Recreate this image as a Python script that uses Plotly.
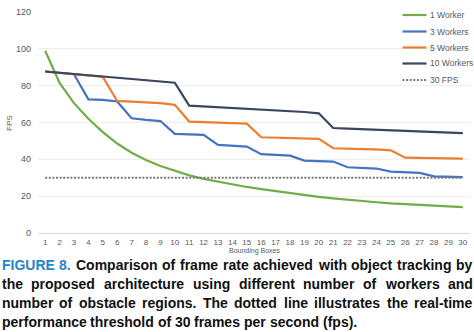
import plotly.graph_objects as go

# ---------------- data ----------------
boxes = [1, 2, 3, 4, 5, 6, 7, 8, 9, 10, 11, 12, 13, 14, 15,
         16, 17, 18, 19, 20, 21, 22, 23, 24, 25, 26, 27, 28, 29, 30]
tick_labels = [str(b) for b in boxes]

fps_1_worker = [99.0, 81.5, 70.5, 62.0, 54.8, 48.6, 43.6, 39.6, 36.4, 33.7,
                31.3, 29.4, 27.8, 26.3, 25.0, 23.8, 22.7, 21.7, 20.8, 19.6,
                18.8, 18.0, 17.3, 16.7, 16.1, 15.6, 15.1, 14.7, 14.3, 14.0]
fps_3_workers = [87.7, 87.0, 86.2, 72.6, 72.3, 71.4, 62.3, 61.4, 60.8, 53.8,
                 53.6, 53.3, 47.8, 47.3, 46.9, 42.8, 42.4, 42.0, 39.3, 39.1,
                 38.8, 35.7, 35.5, 35.0, 33.3, 32.8, 32.6, 30.8, 30.6, 30.3]
fps_5_workers = [87.7, 87.0, 86.2, 85.6, 84.8, 71.7, 71.4, 71.0, 70.5, 69.6,
                 60.5, 60.2, 60.0, 59.8, 59.4, 52.0, 51.8, 51.6, 51.4, 51.1,
                 46.0, 45.6, 45.5, 45.4, 44.9, 40.9, 40.8, 40.7, 40.6, 40.4]
fps_10_workers = [87.7, 87.0, 86.2, 85.6, 84.8, 84.0, 83.4, 82.6, 82.1, 81.6,
                  69.2, 68.8, 68.4, 68.0, 67.6, 67.2, 66.8, 66.3, 65.7, 65.0,
                  57.0, 56.7, 56.4, 56.1, 55.8, 55.5, 55.2, 54.9, 54.6, 54.2]
threshold_fps = 30

series_names = ["1 Worker", "3 Workers", "5 Workers", "10 Workers", "30 FPS"]
y_ticks = [0, 20, 40, 60, 80, 100, 120]

# ---------------- style ----------------
C_GREEN = "#70ad47"
C_BLUE = "#4472c4"
C_ORANGE = "#ed7d31"
C_NAVY = "#3a4659"
C_DOT = "#7a7a7a"
C_TEXT = "#595959"
C_CAP_BLUE = "#1f87c9"

W, H = 474, 332
ML, MR, MT, MB = 38, 4, 12, 99
PW, PH = W - ML - MR, H - MT - MB


def px(x):
    return (x - ML) / PW


def py(y):
    return (H - MB - y) / PH


fig = go.Figure()
series = [
    (fps_1_worker, C_GREEN, "solid"),
    (fps_3_workers, C_BLUE, "solid"),
    (fps_5_workers, C_ORANGE, "solid"),
    (fps_10_workers, C_NAVY, "solid"),
    ([threshold_fps] * len(boxes), C_DOT, "2px,1.6px"),
]
for (vals, col, dash), name in zip(series, series_names):
    fig.add_trace(go.Scatter(
        x=boxes, y=vals, name=name, mode="lines",
        line=dict(color=col, width=2.2 if dash == "solid" else 2, dash=dash),
        showlegend=False, hoverinfo="skip",
    ))

fig.update_layout(
    width=W, height=H,
    margin=dict(l=ML, r=MR, t=MT, b=MB, pad=0),
    paper_bgcolor="white", plot_bgcolor="white",
    font=dict(family="Liberation Sans, Arial, sans-serif", color=C_TEXT, size=9),
    xaxis=dict(range=[0.5, 30.5], tickvals=boxes, ticktext=tick_labels,
               showgrid=False, zeroline=False, showline=True,
               linecolor="#d9d9d9", linewidth=1, ticks="",
               tickfont=dict(size=8, color=C_TEXT), ticklabelstandoff=1,
               fixedrange=True),
    yaxis=dict(range=[0, 120], tickvals=y_ticks, showgrid=True,
               gridcolor="#eeeeee", gridwidth=1, zeroline=False,
               showline=False, ticks="",
               tickfont=dict(size=9, color=C_TEXT), ticklabelstandoff=6,
               fixedrange=True),
    showlegend=False,
)

annotations = []
shapes = []

# axis titles
annotations.append(dict(text="Bounding Boxes", x=px(254), y=py(251.5),
                        xref="paper", yref="paper", showarrow=False,
                        xanchor="center", yanchor="middle", borderpad=0,
                        font=dict(size=7, color=C_TEXT)))
annotations.append(dict(text="FPS", x=px(9), y=py(123), textangle=-90,
                        xref="paper", yref="paper", showarrow=False,
                        xanchor="center", yanchor="middle",
                        font=dict(size=8, color=C_TEXT)))

# legend (drawn manually to match spacing)
leg_y = [15, 31.5, 47.5, 63.5, 80]
for (vals, col, dash), name, ly in zip(series, series_names, leg_y):
    shapes.append(dict(type="line", xref="paper", yref="paper",
                       x0=px(402.5), x1=px(426.5), y0=py(ly), y1=py(ly),
                       line=dict(color=col, width=2.2 if dash == "solid" else 2,
                                 dash=dash)))
    annotations.append(dict(text=name, x=px(429), y=py(ly),
                            xref="paper", yref="paper", showarrow=False,
                            xanchor="left", yanchor="middle",
                            borderpad=0, font=dict(size=8.5, color=C_TEXT)))

# caption (justified, Arial-Bold metrics)
AW = {' ': 278, 'a': 556, 'b': 611, 'c': 556, 'd': 611, 'e': 556, 'f': 333,
      'g': 611, 'h': 611, 'i': 278, 'j': 278, 'k': 556, 'l': 278, 'm': 889,
      'n': 611, 'o': 611, 'p': 611, 'q': 611, 'r': 389, 's': 556, 't': 333,
      'u': 611, 'v': 556, 'w': 778, 'x': 556, 'y': 556, 'z': 500,
      'C': 722, 'E': 667, 'F': 611, 'G': 778, 'I': 278, 'R': 722, 'T': 611,
      'U': 722, '0': 556, '3': 556, '8': 556, '.': 278, '-': 333, '(': 333,
      ')': 333}
CAP_SIZE = 14


def tw(s):
    return sum(AW.get(c, 556) for c in s) * CAP_SIZE / 1000.0


caption_lines = [
    "FIGURE 8. Comparison of frame rate achieved with object tracking by",
    "the proposed architecture using different number of workers and",
    "number of obstacle regions. The dotted line illustrates the real-time",
    "performance threshold of 30 frames per second (fps).",
]
cap_centers = [265, 284, 303, 322]
X0, X1 = 1.5, 472.5
for li, (line, cy) in enumerate(zip(caption_lines, cap_centers)):
    words = line.split(" ")
    widths = [tw(w) for w in words]
    if li < len(caption_lines) - 1:
        gap = (X1 - X0 - sum(widths)) / (len(words) - 1)
    else:
        gap = tw(" ")
    x = X0
    for wi, (w, ww) in enumerate(zip(words, widths)):
        col = C_CAP_BLUE if (li == 0 and wi < 2) else "#111111"
        annotations.append(dict(text="<b>" + w + "</b>", x=px(x), y=py(cy),
                                xref="paper", yref="paper", showarrow=False,
                                xanchor="left", yanchor="middle",
                                borderpad=0, borderwidth=0,
                                font=dict(size=CAP_SIZE, color=col,
                                          family="Liberation Sans, Arial, sans-serif")))
        x += ww + gap

fig.update_layout(annotations=annotations, shapes=shapes)
fig.write_html("out.html")
